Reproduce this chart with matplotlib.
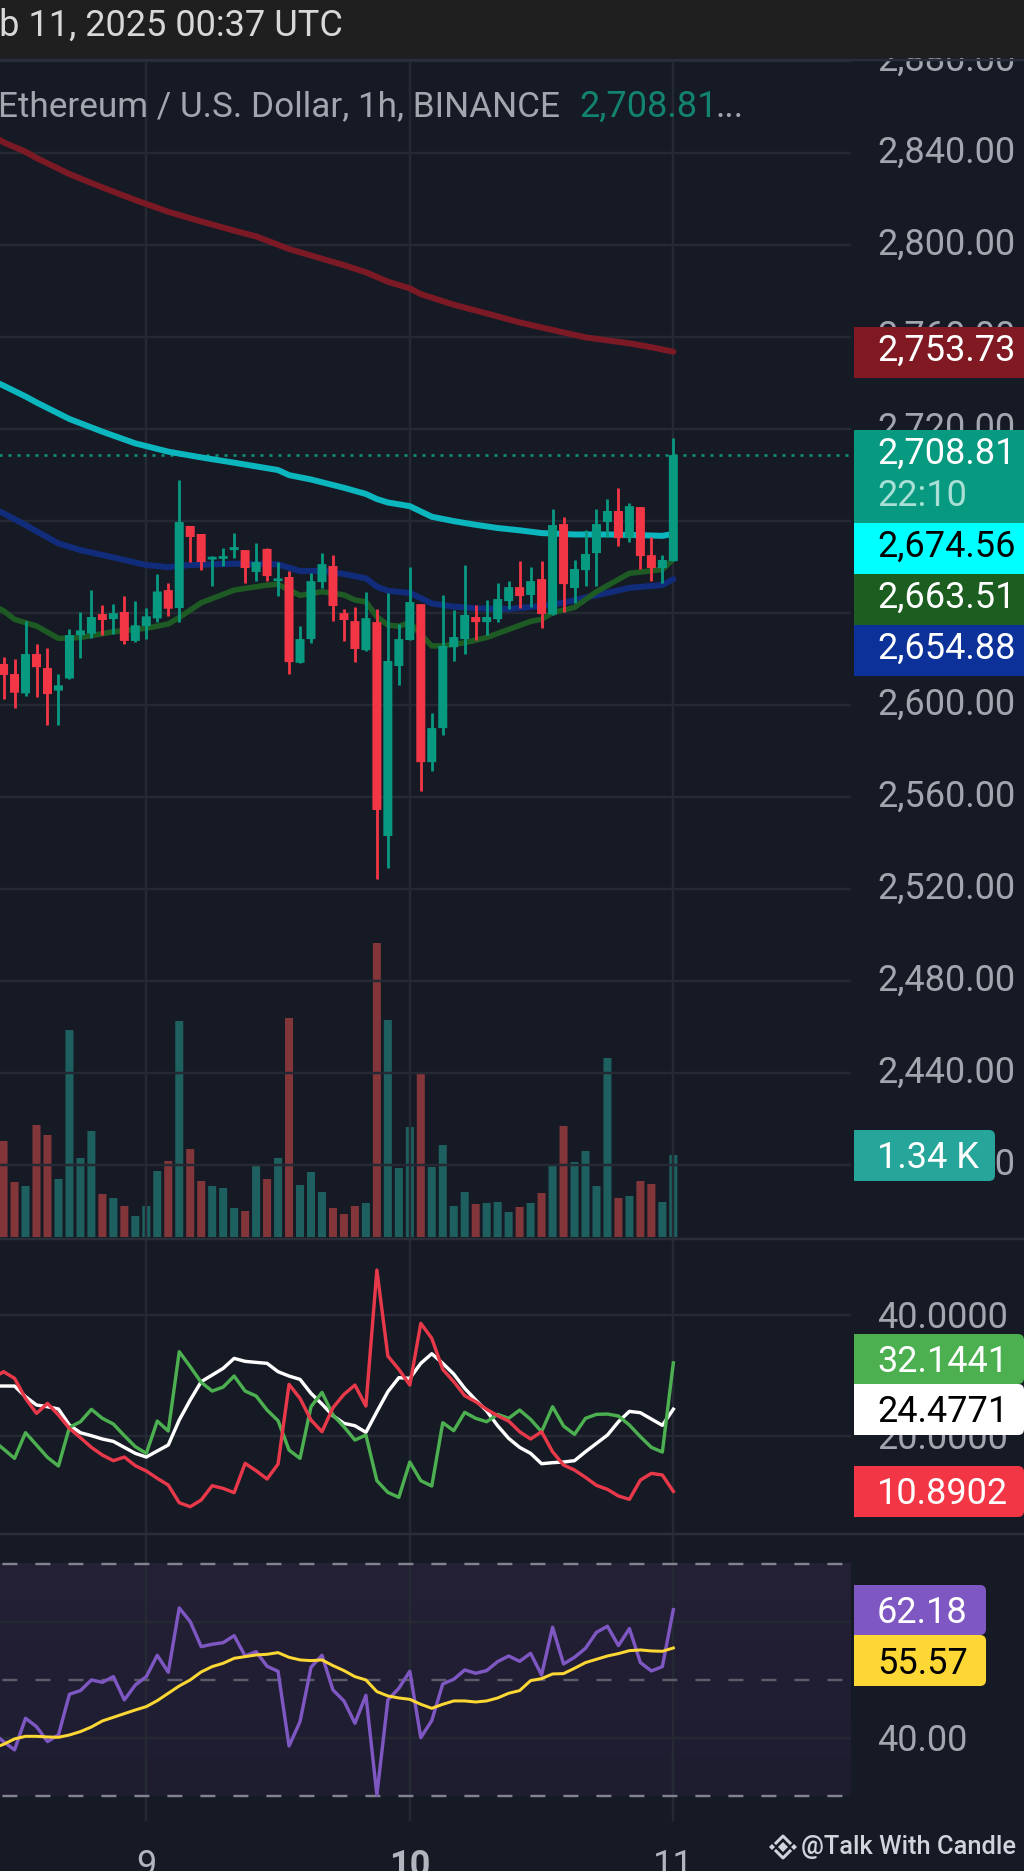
import numpy as np
import matplotlib
matplotlib.use("Agg")
import matplotlib.pyplot as plt
from matplotlib.colors import LinearSegmentedColormap
from matplotlib.patches import Rectangle, FancyBboxPatch, Polygon
from matplotlib.transforms import ScaledTranslation

plt.rcParams['font.family'] = ['Roboto', 'DejaVu Sans']
plt.rcParams['lines.scale_dashes'] = False

# hours counted from the start of day 9
hours = np.arange(-13, 49)
line_hours = np.arange(-14, 49)

opens = [2618.0, 2613.6, 2605.2, 2622.3, 2616.2, 2606.4, 2611.7, 2630.5, 2631.2, 2639.7, 2637.5, 2640.6, 2628.0,
         2634.5, 2637.8, 2650.1, 2642.3, 2678.0, 2674.5, 2663.4, 2663.7, 2667.5, 2667.5, 2658.0, 2668.0, 2654.0,
         2655.8, 2618.5, 2628.8, 2653.6, 2660.6, 2640.1, 2636.6, 2624.0, 2636.2, 2543.2, 2617.1, 2628.4, 2644.0,
         2575.3, 2590.1, 2625.3, 2628.8, 2638.4, 2636.2, 2637.5, 2645.3, 2651.4, 2648.0, 2654.9, 2639.5, 2678.8,
         2651.0, 2658.8, 2666.2, 2679.7, 2684.5, 2672.7, 2686.2, 2665.3, 2659.7, 2662.7]
highs = [2620.9, 2620.1, 2636.6, 2626.6, 2624.8, 2613.5, 2633.0, 2640.6, 2650.1, 2643.5, 2643.9, 2647.4, 2645.2,
         2642.2, 2656.9, 2653.0, 2697.8, 2678.0, 2674.5, 2664.9, 2668.4, 2674.9, 2667.5, 2670.4, 2668.4, 2662.3,
         2658.4, 2634.5, 2657.5, 2666.2, 2665.3, 2641.9, 2642.7, 2649.3, 2641.7, 2648.8, 2635.3, 2660.1, 2644.0,
         2596.5, 2648.0, 2641.4, 2661.0, 2643.6, 2645.8, 2653.2, 2654.0, 2662.7, 2660.1, 2662.7, 2685.3, 2681.9,
         2663.2, 2676.2, 2685.3, 2689.7, 2694.5, 2688.0, 2686.2, 2673.2, 2665.3, 2716.2]
lows = [2602.9, 2598.9, 2604.0, 2603.7, 2591.6, 2591.6, 2611.4, 2620.5, 2629.2, 2630.5, 2631.2, 2626.6, 2627.7,
        2629.0, 2636.4, 2638.8, 2636.4, 2662.3, 2658.8, 2651.9, 2660.6, 2664.0, 2653.2, 2654.0, 2654.0, 2647.5,
        2613.6, 2618.4, 2627.1, 2651.0, 2636.6, 2628.0, 2618.8, 2623.6, 2524.5, 2529.2, 2608.8, 2628.4, 2562.7,
        2571.4, 2587.1, 2619.3, 2622.3, 2628.4, 2630.5, 2636.2, 2641.9, 2642.3, 2642.7, 2633.6, 2639.3, 2640.6,
        2644.5, 2651.9, 2651.9, 2673.2, 2669.2, 2671.0, 2659.3, 2654.0, 2653.2, 2662.7]
closes = [2613.2, 2605.5, 2622.3, 2616.6, 2604.9, 2608.7, 2630.5, 2632.6, 2638.4, 2637.1, 2640.1, 2628.0, 2634.8,
          2638.7, 2649.5, 2642.0, 2679.7, 2673.2, 2662.3, 2664.6, 2664.9, 2668.8, 2659.7, 2662.3, 2656.2, 2655.2,
          2618.8, 2628.8, 2654.0, 2661.4, 2643.2, 2637.1, 2624.5, 2637.9, 2554.5, 2619.3, 2628.8, 2644.9, 2575.3,
          2590.1, 2625.8, 2629.7, 2639.3, 2636.2, 2638.4, 2646.2, 2651.4, 2647.5, 2654.0, 2639.7, 2678.4, 2652.7,
          2659.3, 2665.8, 2678.8, 2684.5, 2672.7, 2686.6, 2664.9, 2659.7, 2663.2, 2708.81]
volumes = [1.569, 0.899, 0.833, 1.83, 1.667, 0.948, 3.382, 1.291, 1.732, 0.703, 0.637, 0.507, 0.343,
           0.507, 1.078, 1.242, 3.529, 1.438, 0.915, 0.833, 0.801, 0.474, 0.425, 1.193, 0.948, 1.291,
           3.578, 0.85, 1.062, 0.735, 0.474, 0.376, 0.507, 0.556, 4.804, 3.546, 1.127, 1.797, 2.663,
           1.144, 1.503, 0.507, 0.735, 0.539, 0.556, 0.572, 0.408, 0.49, 0.556, 0.719, 1.16, 1.814,
           1.225, 1.405, 0.833, 2.925, 0.637, 0.67, 0.915, 0.866, 0.572, 1.34]

ma_red_hours = [-14, -13, -11, -10, -7, -4, -1, 2, 5, 8, 10, 13, 18, 20, 22, 24, 25, 28, 31, 34, 37, 40, 44, 46, 48]
ma_red = [2847.7, 2844.8, 2840.7, 2838.0, 2831.0, 2825.2, 2819.7, 2814.6, 2810.4, 2806.4, 2803.9, 2798.4, 2791.4,
          2788.3, 2784.2, 2781.3, 2778.8, 2774.2, 2770.4, 2766.5, 2763.2, 2760.0, 2757.4, 2755.7, 2753.73]
ma_cyan_hours = [-14, -13, -11, -10, -7, -4, -1, 2, 5, 8, 12, 13, 15, 18, 20, 21, 22, 24, 26, 28, 30, 32, 34, 36,
                 39, 42, 45, 47, 48]
ma_cyan = [2741.2, 2739.0, 2734.3, 2731.7, 2724.5, 2719.0, 2713.9, 2710.3, 2707.8, 2705.5, 2702.3, 2700.1, 2698.2,
           2694.6, 2691.9, 2689.7, 2688.2, 2686.6, 2682.0, 2680.1, 2678.5, 2677.1, 2676.1, 2674.9, 2674.3, 2674.3,
           2674.0, 2673.7, 2674.56]
ma_blue_hours = [-14, -13, -11, -8, -6, -3, 0, 2, 4, 8, 12, 14, 16, 18, 20, 21, 22, 24, 26, 28, 30, 33, 36, 38, 40,
                 42, 44, 47, 48]
ma_blue = [2685.6, 2683.5, 2678.4, 2670.4, 2667.5, 2664.3, 2661.0, 2660.1, 2661.0, 2661.6, 2661.3, 2658.4, 2658.5,
           2657.1, 2655.2, 2651.6, 2649.8, 2648.9, 2644.3, 2642.9, 2642.2, 2641.9, 2643.2, 2644.6, 2646.9, 2648.9,
           2651.1, 2652.3, 2654.88]
ma_green_hours = [-14, -13, -12, -10, -8, -6, -3, 0, 2, 3, 5, 8, 11, 12, 14, 16, 18, 19, 20, 21, 22, 23, 24, 26, 27,
                  29, 31, 33, 35, 36, 37, 39, 41, 44, 46, 47, 48]
ma_green = [2643.6, 2641.1, 2637.4, 2634.5, 2629.1, 2629.5, 2632.0, 2633.5, 2635.4, 2638.2, 2644.6, 2650.1, 2652.3,
            2652.6, 2647.8, 2649.4, 2648.0, 2645.8, 2645.0, 2638.5, 2634.9, 2634.4, 2635.9, 2625.8, 2625.9, 2627.2,
            2629.5, 2633.0, 2636.5, 2637.4, 2640.3, 2642.6, 2649.4, 2657.4, 2658.5, 2659.1, 2663.51]

dmi_green = [19.38, 17.90, 16.35, 20.60, 18.56, 16.52, 15.09, 21.48, 22.41, 24.45, 22.97, 22.03, 20.10, 18.28,
             17.18, 22.52, 20.87, 33.98, 31.51, 28.92, 27.48, 28.14, 29.96, 27.48, 26.66, 24.34, 22.58, 17.73,
             16.35, 24.89, 27.26, 23.52, 21.59, 19.38, 20.21, 12.66, 10.73, 9.91, 15.75, 12.66, 11.78, 22.25,
             20.93, 23.96, 22.97, 22.41, 23.63, 22.97, 24.34, 22.80, 20.76, 24.89, 21.70, 20.32, 22.97, 23.63,
             23.68, 23.35, 21.86, 19.93, 18.17, 17.40, 32.14]
dmi_red = [29.58, 30.68, 29.58, 26.27, 23.79, 25.44, 23.52, 21.31, 19.77, 18.17, 16.90, 15.97, 16.57, 15.14,
           14.26, 13.05, 11.94, 9.02, 8.36, 9.47, 11.83, 11.39, 10.68, 15.53, 14.31, 12.94, 15.42, 28.58,
           26.27, 22.69, 20.76, 24.73, 26.93, 28.47, 25.00, 47.48, 33.27, 31.06, 28.47, 38.67, 36.19, 31.06,
           29.03, 26.71, 25.72, 24.45, 23.41, 22.52, 20.76, 19.55, 20.76, 17.45, 15.25, 14.42, 13.21, 11.89,
           11.23, 10.13, 9.58, 12.77, 13.87, 13.60, 10.89]
dmi_white = [28.31, 28.31, 28.31, 26.55, 25.17, 24.89, 24.51, 21.86, 20.59, 20.10, 19.55, 19.16, 18.17, 17.18,
             16.57, 17.57, 18.56, 22.69, 26.00, 29.03, 30.13, 31.23, 32.88, 32.39, 32.22, 32.06, 30.68, 29.96,
             29.41, 27.10, 25.33, 23.41, 22.14, 21.75, 20.65, 24.07, 27.37, 29.69, 29.58, 32.06, 33.65, 32.06,
             30.29, 27.92, 26.00, 24.18, 21.75, 19.66, 18.17, 17.18, 15.47, 15.64, 15.75, 15.97, 17.45, 18.83,
             20.21, 22.41, 24.12, 23.90, 22.85, 21.81, 24.48]

rsi = [40.98, 39.43, 37.99, 43.45, 42.01, 39.43, 40.57, 47.59, 48.22, 50.06, 49.65, 50.63, 46.61, 49.19,
       50.63, 54.31, 51.38, 62.47, 60.11, 55.80, 56.21, 56.49, 57.70, 54.19, 54.94, 52.41, 51.55, 38.68,
       42.87, 52.24, 54.31, 48.33, 46.44, 42.59, 47.41, 30.23, 46.61, 48.62, 51.55, 40.11, 43.05, 49.37,
       50.17, 51.78, 51.21, 51.67, 53.22, 54.19, 53.27, 54.65, 50.92, 59.14, 52.82, 53.96, 55.52, 58.27,
       59.31, 55.98, 58.91, 53.05, 51.61, 52.36, 62.18]
rsi_ma = [38.28, 38.96, 39.89, 40.34, 40.34, 40.23, 40.17, 40.57, 41.15, 41.95, 42.99, 43.62, 44.25, 44.88,
          45.46, 46.49, 47.76, 49.02, 50.06, 51.44, 52.36, 52.93, 53.79, 54.08, 54.37, 54.48, 54.77, 53.96,
          53.51, 53.39, 53.51, 52.53, 51.67, 50.63, 50.06, 48.05, 47.30, 46.95, 46.72, 45.86, 45.17, 45.86,
          46.44, 46.44, 46.26, 46.44, 46.95, 47.76, 48.22, 49.94, 50.29, 51.09, 51.15, 52.07, 53.05, 53.62,
          54.19, 54.60, 55.11, 55.23, 55.06, 55.00, 55.57]

price_ticks = [2880, 2840, 2800, 2760, 2720, 2680, 2640, 2600, 2560, 2520, 2480, 2440, 2400]
dmi_ticks = [40, 20]
rsi_ticks = [60, 40]
day_ticks = [0, 24, 48]
day_labels = ['9', '10', '11']

BG = '#161a25'
GRID = '#252933'
UP = '#089981'
DOWN = '#f23645'
AXIS_TEXT = '#a3a6af'
FS = 26
W, H = 1024, 1871
RIGHT = 851
px = 72 / 100  # points per pixel at dpi 100


def pane(top, bottom, ylim, yticks, yfmt, lift):
    ax = fig.add_axes([0, 1 - bottom / H, RIGHT / W, (bottom - top) / H])
    ax.set_xlim(-146.3 / 10.98, (RIGHT - 146.3) / 10.98)
    ax.set_ylim(*ylim)
    ax.patch.set_alpha(0)
    for s in ax.spines.values():
        s.set_visible(False)
    ax.yaxis.tick_right()
    ax.set_yticks(yticks)
    ax.set_yticklabels([yfmt.format(t) for t in yticks])
    ax.tick_params(axis='y', length=0, pad=26 * px, labelsize=FS, labelcolor=AXIS_TEXT)
    ax.set_xticks([])
    for t in yticks:
        ax.axhline(t, color=GRID, lw=2.5 * px, zorder=1)
    for d in day_ticks:
        ax.axvline(d, color=GRID, lw=2.5 * px, zorder=1)
    # tick labels sit a little above their grid line
    shift = ScaledTranslation(0, lift / 100, fig.dpi_scale_trans)
    for label in ax.get_yticklabels():
        label.set_transform(label.get_transform() + shift)
    return ax


def tag(y0, y1, x1, color, text, text_color='white', rounded=False):
    if rounded:
        box.add_patch(FancyBboxPatch((860, y0), x1 - 860, y1 - y0, boxstyle='round,pad=0,rounding_size=6',
                                     fc=color, ec='none'))
        box.add_patch(Rectangle((854, y0), 20, y1 - y0, fc=color, ec='none'))
        text_y = (y0 + y1) / 2 + 3
    else:
        box.add_patch(Rectangle((854, y0), x1 - 854, y1 - y0, fc=color, ec='none'))
        text_y = (y0 + y1) / 2 - 2
    box.text(877, text_y, text, color=text_color, fontsize=FS, ha='left', va='center')


fig = plt.figure(figsize=(W / 100, H / 100), dpi=100, facecolor=BG)

# volume sits behind the candles on its own scale
ax_vol = fig.add_axes([0, 1 - 1239 / H, RIGHT / W, (1239 - 60) / H])
ax_vol.set_xlim(-146.3 / 10.98, (RIGHT - 146.3) / 10.98)
ax_vol.set_ylim(-2 / 61.2, (1237 - 60) / 61.2)
ax_vol.axis('off')
vol_colors = ['#26a69a' if c >= o else '#ef5350' for o, c in zip(opens, closes)]
ax_vol.bar(hours, volumes, width=8 / 10.98, color=vol_colors, alpha=0.5, lw=0, zorder=3, snap=False)

ax = pane(60, 1239, (2367.96, 2880.6), price_ticks, '{:,.2f}', 5)
ax.plot(ma_red_hours, ma_red, color='#7b1a25', lw=6 * px, zorder=3, solid_capstyle='round')
ax.plot(ma_cyan_hours, ma_cyan, color='#0cb6be', lw=6 * px, zorder=3, solid_capstyle='round')
ax.plot(ma_blue_hours, ma_blue, color='#122c7c', lw=6 * px, zorder=3, solid_capstyle='round')
ax.plot(ma_green_hours, ma_green, color='#1d5a24', lw=5.5 * px, zorder=3, solid_capstyle='round')
ax.plot([-14, 65], [closes[-1], closes[-1]], color='#12907b', lw=2.6 * px,
        linestyle=(0, (3 * px, 6 * px)), zorder=2)

candle_colors = [UP if c >= o else DOWN for o, c in zip(opens, closes)]
ax.vlines(hours, lows, highs, colors=candle_colors, lw=2.8 * px, zorder=4)
ax.bar(hours, np.abs(np.array(closes) - np.array(opens)), bottom=np.minimum(opens, closes),
       width=9 / 10.98, color=candle_colors, lw=0, zorder=5, snap=False)

ax2 = pane(1240, 1534, (3.85, 52.45), dmi_ticks, '{:.4f}', 1.5)
ax2.plot(line_hours, dmi_white, color='white', lw=3.4 * px, zorder=3)
ax2.plot(line_hours, dmi_green, color='#4caf50', lw=3.4 * px, zorder=3)
ax2.plot(line_hours, dmi_red, color='#e8394a', lw=3.4 * px, zorder=4)

ax3 = pane(1534, 1821, (25.74, 75.22), rsi_ticks, '{:.2f}', 1.5)
band_cmap = LinearSegmentedColormap.from_list('band', ['#1e1d30', '#242036'])
ax3.imshow(np.linspace(1, 0, 64)[:, None], extent=[ax3.get_xlim()[0], ax3.get_xlim()[1], 30, 70], aspect='auto',
           cmap=band_cmap, zorder=0)
ax3.set_ylim(25.74, 75.22)
for level, c in [(70, '#83838f'), (50, '#5d5c69'), (30, '#83838f')]:
    ax3.plot([-14, 65], [level, level], color=c, lw=2.4 * px, linestyle=(29.6 * px, (15 * px, 18 * px)),
             zorder=2, dash_capstyle='butt')
ax3.plot(line_hours, rsi, color='#7e57c2', lw=3.4 * px, zorder=3)
ax3.plot(line_hours, rsi_ma, color='#fdd835', lw=3 * px, zorder=4)
ax3.set_xticks(day_ticks)
ax3.set_xticklabels(day_labels)
ax3.tick_params(axis='x', length=0, pad=27 * px, labelsize=FS, labelcolor='#b2b5be')
ax3.get_xticklabels()[1].set_fontweight('bold')

# overlay in pixel coordinates for header, separators and the price tags
box = fig.add_axes([0, 0, 1, 1], zorder=5)
box.set_xlim(0, W)
box.set_ylim(H, 0)
box.axis('off')
box.add_patch(Rectangle((0, 0), W, 58, fc='#1f1f1f', ec='none'))
box.plot([0, W], [59.5, 59.5], color='#2a2e39', lw=2.5 * px)
box.plot([0, W], [1239, 1239], color='#2a2e39', lw=2.5 * px)
box.plot([0, W], [1534, 1534], color='#2a2e39', lw=2.5 * px)

box.text(343, 26, 'Feb 11, 2025 00:37 UTC', color='#d8d8d8', fontsize=FS, ha='right', va='center')
box.text(560, 107, 'Ethereum / U.S. Dollar, 1h, BINANCE', color=AXIS_TEXT, fontsize=25.3, ha='right', va='center')
box.text(579, 107, '2,708.81', color='#12836f', fontsize=FS, ha='left', va='center')
box.text(716, 107, '...', color=AXIS_TEXT, fontsize=FS, ha='left', va='center')

tag(327, 378, 1024, '#801922', '2,753.73')
box.add_patch(Rectangle((854, 430), 170, 93, fc=UP, ec='none'))
box.text(877, 454, '2,708.81', color='white', fontsize=FS, ha='left', va='center')
box.text(877, 496, '22:10', color='#a8e0d5', fontsize=FS, ha='left', va='center')
tag(523, 574, 1024, '#00ffff', '2,674.56', text_color='black')
tag(574, 625, 1024, '#1b5e20', '2,663.51')
tag(625, 676, 1024, '#0c3299', '2,654.88')
tag(1130, 1181, 995, '#26a69a', '1.34 K', rounded=True)
tag(1334, 1384, 1024, '#4caf50', '32.1441', rounded=True)
tag(1384, 1435, 1024, 'white', '24.4771', text_color='black', rounded=True)
tag(1466, 1517, 1024, '#f23645', '10.8902', rounded=True)
tag(1585, 1635, 986, '#7e57c2', '62.18', rounded=True)
tag(1635, 1686, 986, '#fdd835', '55.57', text_color='black', rounded=True)

# small binance mark next to the watermark
for cx, cy, r in [(783, 1847, 5), (772, 1847, 3), (794, 1847, 3)]:
    box.add_patch(Polygon([(cx - r, cy), (cx, cy - r), (cx + r, cy), (cx, cy + r)], fc='#d1d4dc', ec='none'))
box.plot([776, 783, 790], [1843, 1836, 1843], color='#d1d4dc', lw=3 * px)
box.plot([776, 783, 790], [1851, 1858, 1851], color='#d1d4dc', lw=3 * px)
box.text(1016, 1847, '@Talk With Candle', color='#d1d4dc', fontsize=18.4, fontweight='medium', ha='right', va='center')

fig.savefig('out.png', dpi=100, facecolor=BG)
